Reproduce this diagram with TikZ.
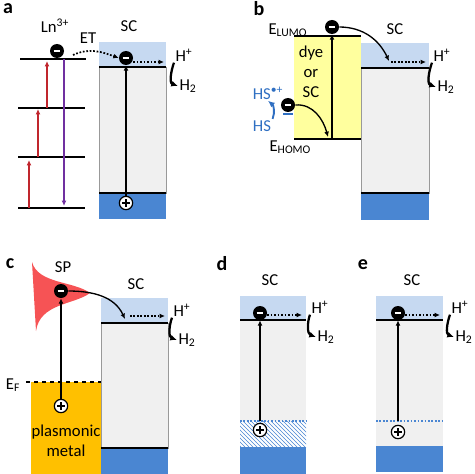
\documentclass[tikz,border=0pt]{standalone}
\usepackage{fontspec}
\setmainfont{Carlito}
\usetikzlibrary{arrows.meta,patterns}

\definecolor{cbtop}{HTML}{C6D9F1}
\definecolor{cbbot}{HTML}{4A86D2}
\definecolor{gapgray}{HTML}{F0F0F0}
\definecolor{dyeyellow}{HTML}{FFFF9E}
\definecolor{metalgold}{HTML}{FFC000}
\definecolor{spred}{HTML}{F65355}
\definecolor{hsblue}{HTML}{2F6FC2}
\definecolor{lnred}{HTML}{C0262D}
\definecolor{lnpurple}{HTML}{7030A0}

\begin{document}
\begin{tikzpicture}[x=0.75pt,y=-0.75pt,>={Latex[length=4pt,width=3.6pt]},
    txt/.style={inner sep=1pt,font=\fontsize{12.5}{15}\selectfont},
    panel/.style={inner sep=1pt,font=\bfseries\fontsize{15}{15}\selectfont},
    level/.style={line width=1.3pt},
    elec/.style={circle,fill=black,minimum size=10.5pt,inner sep=0pt,
        path picture={\draw[white,line width=1.4pt]
            ([xshift=-2.6pt]path picture bounding box.center) --
            ([xshift=2.6pt]path picture bounding box.center);}},
    hole/.style={circle,draw=black,line width=0.9pt,fill=white,minimum size=10pt,inner sep=0pt,
        path picture={\draw[black,line width=1.1pt]
            ([xshift=-2.7pt]path picture bounding box.center) --
            ([xshift=2.7pt]path picture bounding box.center)
            ([yshift=-2.7pt]path picture bounding box.center) --
            ([yshift=2.7pt]path picture bounding box.center);}},
    excite/.style={->,line width=0.9pt},
    transfer/.style={->,line width=1pt},
    dotarrow/.style={->,line width=1.3pt,dash pattern=on 1.3pt off 1.3pt},
    harrow/.style={-{Latex[length=5pt,width=4.5pt]},line width=1.7pt},
    gapbox/.style={fill=gapgray,draw=gray!80,line width=0.6pt}]

    \useasboundingbox (0,0) rectangle (474,474);

    % panel a: upconverting Ln levels
    \node[panel] (la) at (8,9) {a};
    \node[txt] (ln) at (55,26) {Ln\textsuperscript{3+}};
    \draw[level] (20,59) -- (86,59);
    \foreach \y in {108,157,208}
        \draw[level] (18,\y) -- (85,\y);
    \draw[excite,lnred] (29,208) -- (29,160);
    \draw[excite,lnred] (38,157) -- (38,109);
    \draw[excite,lnred] (47,108) -- (47,61);
    \draw[excite,lnpurple] (64,59) -- (64,206);
    \node[elec] (lne) at (57,51) {};

    % draw the SC of panel a
    \fill[cbtop] (99,42) rectangle (166,67);
    \draw[gapbox] (99,67) rectangle (166,193);
    \fill[cbbot] (99,193) rectangle (166,219);
    \draw[level] (99,67) -- (166,67);
    \draw[level] (99,193) -- (166,193);
    \node[txt] (asc) at (129,26) {SC};
    \node[elec] (ae) at (126,58) {};
    \node[hole] (ah) at (126,203) {};
    \draw[excite] (ah) -- (ae);
    \coordinate (aout) at (164,62);
    \draw[dotarrow] (ae.east |- aout) -- (aout);
    \node[txt] (et) at (88,38) {ET};
    \coordinate (etstart) at (73,55);
    \draw[dotarrow] (etstart) to[out=25,in=160] (ae.west);
    \node[txt] (ahp) at (184,55) {H\textsuperscript{+}};
    \node[txt] (aht) at (188,86) {H\textsubscript{2}};
    \draw[harrow] (ahp.south west) to[out=250,in=160] (aht.west);

    % panel b: dye or SC sensitizer
    \node[panel] (lb) at (259,9) {b};
    \fill[dyeyellow] (294,36) rectangle (361,139);
    \draw[level] (294,36) -- (361,36);
    \draw[level] (294,139) -- (361,139);
    \node[txt,anchor=west] (lumo) at (267,30) {E\textsubscript{LUMO}};
    \node[txt,anchor=west] (homo) at (268,147) {E\textsubscript{HOMO}};
    \node[txt,align=center] (dye) at (311,72) {dye\\or\\SC};
    \node[elec] (be) at (332,27) {};
    \coordinate (bhomo) at (332,139);
    \draw[excite] (bhomo) -- (be.south);

    % draw the SC of panel b
    \fill[cbtop] (361,43) rectangle (429,68);
    \draw[gapbox] (361,68) rectangle (429,193);
    \fill[cbbot] (361,193) rectangle (429,220);
    \draw[level] (361,68) -- (429,68);
    \draw[level] (361,193) -- (429,193);
    \node[txt] (bsc) at (395,29) {SC};
    \coordinate (bin) at (389,61);
    \draw[transfer] (be.east) to[out=0,in=115] (bin);
    \coordinate (bstart) at (391,62);
    \coordinate (bout) at (426,62);
    \draw[dotarrow] (bstart) -- (bout);
    \node[txt] (bhp) at (442,55) {H\textsuperscript{+}};
    \node[txt] (bht) at (446,87) {H\textsubscript{2}};
    \draw[harrow] (bhp.south west) to[out=250,in=160] (bht.west);

    % hole scavenger
    \node[txt,hsblue] (hs) at (262,126) {HS};
    \node[txt,hsblue] (hsox) at (268,93) {HS\textsuperscript{•+}};
    \draw[harrow,hsblue,line width=1.4pt] (hs.north east) to[out=70,in=-40] (hsox.south);
    \node[elec] (hse) at (288,105) {};
    \draw[hsblue,line width=1.2pt] (283,114) -- (293,114);
    \coordinate (bdown) at (328,137);
    \draw[transfer] (hse.east) to[out=5,in=105] (bdown);

    % panel c: plasmonic metal
    \node[panel] (lc) at (10,264) {c};
    \fill[spred] (32,262) .. controls (38,284) and (74,281) .. (90,293)
        .. controls (74,305) and (40,303) .. (36,331) -- cycle;
    \node[txt] (sp) at (63,267) {SP};
    \fill[metalgold] (31,382) rectangle (101,474);
    \draw[dashed,line width=1pt] (26,382) -- (102,382);
    \node[txt] (ef) at (13,385) {E\textsubscript{F}};
    \node[txt,align=center] (metal) at (66,441) {plasmonic\\metal};
    \node[elec] (ce) at (61,291) {};
    \node[hole] (ch) at (61,406) {};
    \draw[excite] (ch) -- (ce);

    % draw the SC of panel c
    \fill[cbtop] (101,298) rectangle (168,323);
    \draw[gapbox] (101,323) rectangle (168,448);
    \fill[cbbot] (101,448) rectangle (168,474);
    \draw[level] (101,323) -- (168,323);
    \draw[level] (101,448) -- (168,448);
    \node[txt] (csc) at (136,284) {SC};
    \coordinate (cin) at (125,319);
    \draw[transfer] (ce.east) to[out=0,in=115] (cin);
    \coordinate (cstart) at (130,316);
    \coordinate (cout) at (165,316);
    \draw[dotarrow] (cstart) -- (cout);
    \node[txt] (chp) at (182,310) {H\textsuperscript{+}};
    \node[txt] (cht) at (187,340) {H\textsubscript{2}};
    \draw[harrow] (chp.south west) to[out=250,in=160] (cht.west);

    % panel d: defect band
    \node[panel] (ld) at (222,264) {d};
    \fill[cbtop] (240,296) rectangle (306,320);
    \fill[gapgray] (240,320) rectangle (306,421);
    \fill[white] (240,421) rectangle (306,447);
    \fill[pattern=north west lines,pattern color=cbbot] (240,421) rectangle (306,447);
    \draw[cbbot,line width=1pt,dash pattern=on 1.3pt off 1.3pt] (240,421) -- (306,421);
    \fill[cbbot] (240,447) rectangle (306,474);
    \draw[level] (240,320) -- (306,320);
    \node[txt] (dsc) at (270,280) {SC};
    \node[elec] (de) at (260,313) {};
    \node[hole] (dh) at (260,430) {};
    \coordinate (dvb) at (260,421);
    \draw[excite] (dvb) -- (de.south);
    \coordinate (dout) at (302,315);
    \draw[dotarrow] (de.east |- dout) -- (dout);
    \node[txt] (dhp) at (320,307) {H\textsuperscript{+}};
    \node[txt] (dht) at (326,337) {H\textsubscript{2}};
    \draw[harrow] (dhp.south west) to[out=250,in=160] (dht.west);

    % panel e: shallow trap level
    \node[panel] (le) at (363,265) {e};
    \fill[cbtop] (376,296) rectangle (443,320);
    \fill[gapgray] (376,320) rectangle (443,446);
    \fill[cbbot] (376,446) rectangle (443,472);
    \draw[level] (376,320) -- (443,320);
    \draw[cbbot,line width=1.1pt,dash pattern=on 1.3pt off 1.3pt] (376,421) -- (443,421);
    \node[txt] (esc) at (412,280) {SC};
    \node[elec] (ee) at (398,313) {};
    \node[hole] (eh) at (398,432) {};
    \coordinate (evb) at (398,421);
    \draw[excite] (evb) -- (ee.south);
    \coordinate (eout) at (440,315);
    \draw[dotarrow] (ee.east |- eout) -- (eout);
    \node[txt] (ehp) at (460,307) {H\textsuperscript{+}};
    \node[txt] (eht) at (464,337) {H\textsubscript{2}};
    \draw[harrow] (ehp.south west) to[out=250,in=160] (eht.west);
\end{tikzpicture}
\end{document}
